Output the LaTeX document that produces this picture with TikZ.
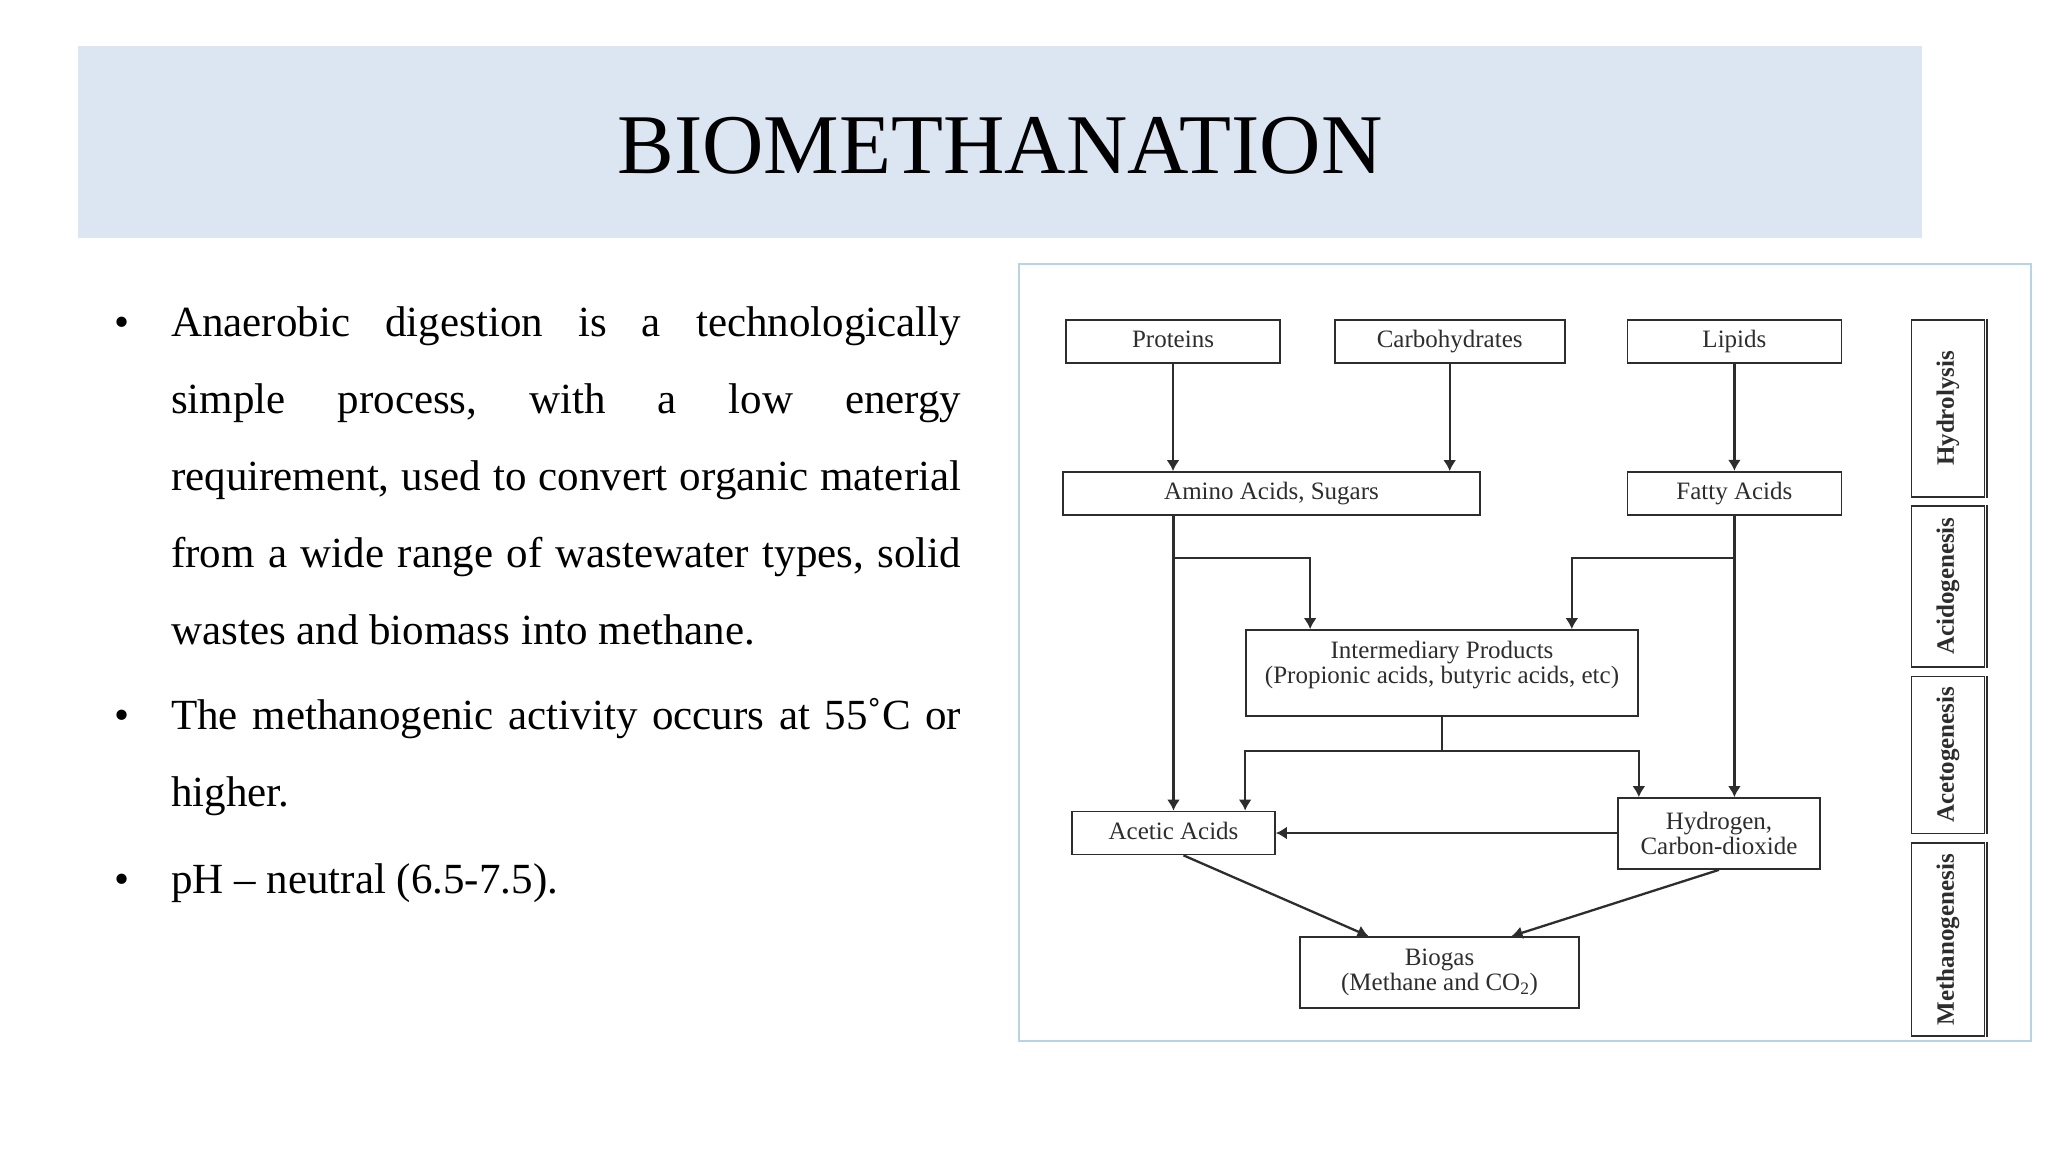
\documentclass[tikz,border=0pt]{standalone}
\usepackage{fontspec}
\usepackage{graphicx}
\setmainfont{Liberation Serif}
\usetikzlibrary{positioning,arrows.meta,calc}

\definecolor{bandblue}{RGB}{220,230,242}
\definecolor{frameblue}{RGB}{184,212,228}
\definecolor{ink}{RGB}{45,45,45}
\tolerance=9999
\hbadness=10000
\frenchspacing

\begin{document}
\begin{tikzpicture}[x=1pt,y=-1pt,
    box/.style={draw=ink,line width=1.7pt,text=ink,inner sep=0pt,minimum height=43pt,
        align=center,font=\fontsize{25}{25.5}\selectfont},
    word/.style={box,text height=17pt,text depth=5pt},
    phase/.style={draw=ink,line width=1.7pt,minimum width=73pt,inner sep=0pt,text=ink,
        font=\fontsize{25}{25}\selectfont\bfseries},
    arr/.style={draw=ink,line width=2.3pt,-{Latex[length=11pt,width=13pt]}},
    para/.style={anchor=base west,inner sep=0pt,text width=790pt,align=justify,
        font=\fontsize{43}{77}\selectfont},
    dot/.style={anchor=base west,inner sep=0pt,font=\fontsize{43}{77}\selectfont}]
    \useasboundingbox (0,0) rectangle (2048,1152);

    % title band
    \fill[bandblue] (78,46) rectangle (1922,238);
    \node[font=\fontsize{85}{100}\selectfont] (title) at (1000,146) {BIOMETHANATION};

    % bullet points
    \node[para] (p1) at (171,336) {Anaerobic digestion is a technologically\linebreak simple process, with a low energy\linebreak requirement, used to convert organic material\linebreak from a wide range of wastewater types, solid\linebreak wastes and biomass into methane.};
    \node[para] (p2) at (171,729) {The methanogenic activity occurs at 55˚C or\linebreak higher.};
    \node[para] (p3) at (171,893.5) {pH – neutral (6.5-7.5).};
    \foreach \p in {p1,p2,p3}
        \node[dot] (b\p) at ([xshift=-57pt]\p.base west) {\textbullet};

    % figure frame
    \draw[frameblue,line width=1.5pt] (1019,264) rectangle (2031,1041);

    % process boxes
    \node[word,minimum width=214pt] (prot) at (1173,341.5) {Proteins};
    \node[word,minimum width=230pt,right=53pt of prot] (carb) {Carbohydrates};
    \node[word,minimum width=214pt,right=61pt of carb] (lip) {Lipids};
    \node[word,minimum width=417pt] (amino) at (1271.5,493.5) {Amino Acids, Sugars};
    \node[word,minimum width=214pt,below=107pt of lip] (fat) {Fatty Acids};
    \node[box,minimum width=392pt,minimum height=86pt] (inter) at (1442,673)
        {Intermediary Products\\(Propionic acids, butyric acids, etc)\rule[-21pt]{0pt}{1pt}};
    \node[word,minimum width=203pt] (acet) at (1173.5,833) {Acetic Acids};
    \node[box,minimum width=202pt,minimum height=71pt] (hyd) at (1719,833.5) {Hydrogen,\\Carbon-dioxide};
    \node[box,minimum width=279pt,minimum height=71pt] (bio) at (1439.5,972.5) {Biogas\\(Methane and CO\textsubscript{2})};

    % phases
    \node[phase,minimum height=177pt] (hydro) at (1948,408.5) {\rotatebox{90}{Hydrolysis}};
    \node[phase,minimum height=161pt,below=7pt of hydro] (acido) {\rotatebox{90}{Acidogenesis}};
    \node[phase,minimum height=157pt,below=8pt of acido] (aceto) {\rotatebox{90}{Acetogenesis}};
    \node[phase,minimum height=193pt,below=8pt of aceto] (metha) {\rotatebox{90}{Methanogenesis}};
    \foreach \p in {hydro,acido,aceto,metha}
        \draw[ink,line width=2.4pt] ([xshift=1.6pt]\p.north east) -- ([xshift=1.6pt]\p.south east);

    % connectors
    \draw[arr] (prot.south) -- (prot.south |- amino.north);
    \draw[arr] (carb.south) -- (carb.south |- amino.north);
    \draw[arr] (lip.south) -- (fat.north);
    \draw[arr] (acet.north |- amino.south) -- (acet.north);
    \coordinate (jl) at (acet.north |- 0,558);
    \coordinate (jr) at (fat.south |- jl);
    \draw[arr] (jl) -| ([xshift=65pt]inter.north west);
    \draw[arr] (jr) -| ([xshift=-67pt]inter.north east);
    \draw[arr] (fat.south) -- (fat.south |- hyd.north);
    \coordinate (jm) at ($(inter.south)+(0,34)$);
    \draw[ink,line width=2.3pt] (inter.south) -- (jm);
    \draw[arr] (jm) -| (inter.west |- acet.north);
    \draw[arr] (jm) -| (inter.east |- hyd.north);
    \draw[arr] (hyd.west |- acet.east) -- (acet.east);
    \draw[arr] ([xshift=10pt]acet.south) -- ([xshift=-71pt]bio.north);
    \draw[arr] (hyd.south) -- ([xshift=72pt]bio.north);
\end{tikzpicture}
\end{document}
